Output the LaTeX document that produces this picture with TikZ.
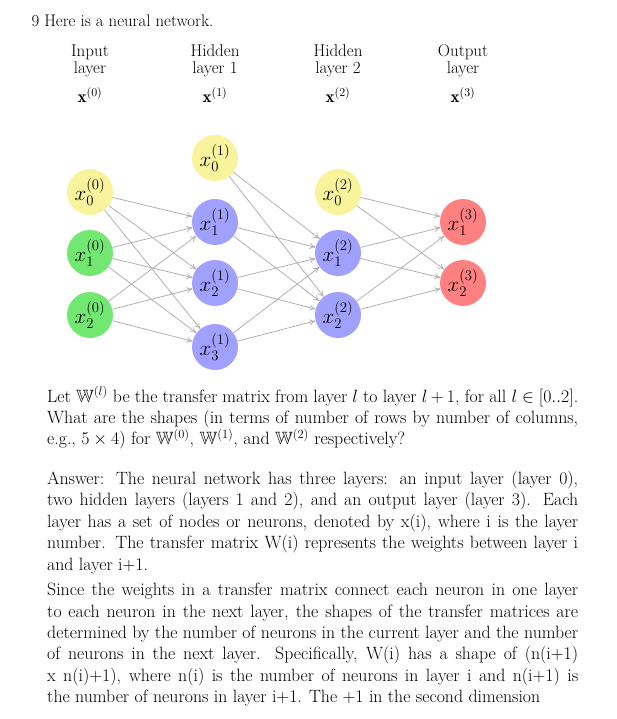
\RequirePackage{fix-cm}
\documentclass[tikz,border=0pt]{standalone}
\usepackage{amsmath,amssymb}
\usepackage{fontspec}
\usetikzlibrary{arrows.meta}
\definecolor{cy}{HTML}{F9F39B}
\definecolor{cg}{HTML}{72E872}
\definecolor{cb}{HTML}{A0A0FF}
\definecolor{cr}{HTML}{FF8080}
\tikzset{
 neu/.style={circle,minimum size=46pt,inner sep=0pt,font=\fontsize{21}{21}\selectfont},
 conn/.style={draw=gray!60,line width=0.8pt,-{To[length=6pt,width=6pt]}},
 hdr/.style={align=center,font=\fontsize{17}{17.5}\selectfont},
 para/.style={anchor=north west,text width=531pt,inner sep=0pt,align=justify,font=\fontsize{17.8}{21.4}\selectfont}
}
\begin{document}
\begin{tikzpicture}[x=1pt,y=-1pt]
\useasboundingbox[fill=white] (0,0) rectangle (616,719);
\node[anchor=west,font=\fontsize{16.8}{17}\selectfont] (t) at (28,21) {9 Here is a neural network.};
\node[hdr] (h0) at (90,61) {Input\\layer};
\node[hdr] (h1) at (215,61) {Hidden\\layer 1};
\node[hdr] (h2) at (338,61) {Hidden\\layer 2};
\node[hdr] (h3) at (463,61) {Output\\layer};
\node[hdr] (v0) at (90,95) {$\mathbf{x}^{(0)}$};
\node[hdr] (v1) at (215,95) {$\mathbf{x}^{(1)}$};
\node[hdr] (v2) at (338,95) {$\mathbf{x}^{(2)}$};
\node[hdr] (v3) at (463,95) {$\mathbf{x}^{(3)}$};
\node[neu,fill=cy] (a0) at (90,192) {$x_0^{(0)}$};
\node[neu,fill=cg] (a1) at (90,253) {$x_1^{(0)}$};
\node[neu,fill=cg] (a2) at (90,315) {$x_2^{(0)}$};
\node[neu,fill=cy] (b0) at (215,158) {$x_0^{(1)}$};
\node[neu,fill=cb] (b1) at (215,222) {$x_1^{(1)}$};
\node[neu,fill=cb] (b2) at (215,283) {$x_2^{(1)}$};
\node[neu,fill=cb] (b3) at (215,347) {$x_3^{(1)}$};
\node[neu,fill=cy] (c0) at (338,192) {$x_0^{(2)}$};
\node[neu,fill=cb] (c1) at (338,253) {$x_1^{(2)}$};
\node[neu,fill=cb] (c2) at (338,315) {$x_2^{(2)}$};
\node[neu,fill=cr] (d1) at (463,222) {$x_1^{(3)}$};
\node[neu,fill=cr] (d2) at (463,283) {$x_2^{(3)}$};
\foreach \s in {a0,a1,a2}{\foreach \t in {b1,b2,b3}{\draw[conn] (\s) -- (\t);}}
\foreach \s in {b0,b1,b2,b3}{\foreach \t in {c1,c2}{\draw[conn] (\s) -- (\t);}}
\foreach \s in {c0,c1,c2}{\foreach \t in {d1,d2}{\draw[conn] (\s) -- (\t);}}
\node[para] (p1) at (47,386) {Let $\mathbb{W}^{(l)}$ be the transfer matrix from layer $l$ to layer $l+1$, for all $l\in[0..2]$.\linebreak What are the shapes (in terms of number of rows by number of columns,\linebreak e.g., $5\times4$) for $\mathbb{W}^{(0)}$, $\mathbb{W}^{(1)}$, and $\mathbb{W}^{(2)}$ respectively?};
\node[para] (p2) at (47,471) {Answer: The neural network has three layers: an input layer (layer 0),\linebreak two hidden layers (layers 1 and 2), and an output layer (layer 3). Each\linebreak layer has a set of nodes or neurons, denoted by x(i), where i is the layer\linebreak number. The transfer matrix W(i) represents the weights between layer i\linebreak and layer i+1.};
\node[para] (p3) at (47,583) {\parfillskip=0pt Since the weights in a transfer matrix connect each neuron in one layer\linebreak to each neuron in the next layer, the shapes of the transfer matrices are\linebreak determined by the number of neurons in the current layer and the number\linebreak of neurons in the next layer. Specifically, W(i) has a shape of (n(i+1)\linebreak x n(i)+1), where n(i) is the number of neurons in layer i and n(i+1) is\linebreak the number of neurons in layer i+1. The +1 in the second dimension};
\end{tikzpicture}
\end{document}
